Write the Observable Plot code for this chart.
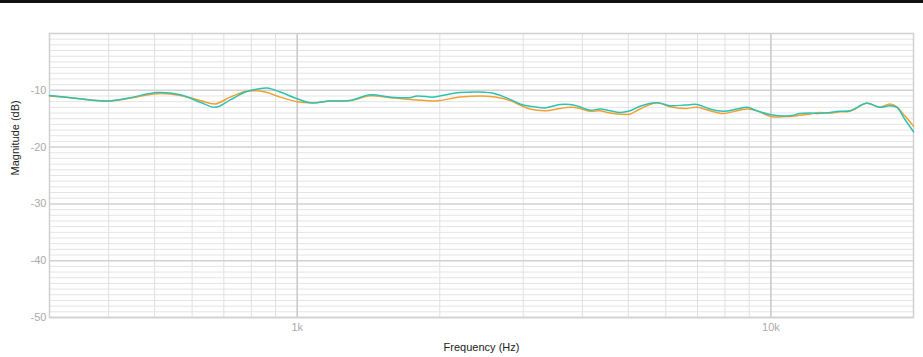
<!DOCTYPE html>
<html>
<head>
<meta charset="utf-8">
<script src="https://cdn.jsdelivr.net/npm/d3@7"></script>
<script src="https://cdn.jsdelivr.net/npm/@observablehq/plot@0.6"></script>
<style>
  html, body { margin: 0; padding: 0; background: #fff; }
  #topbar { height: 3px; background: #111; }
  #chart svg { display: block; }
</style>
</head>
<body>
<div id="topbar"></div>
<div id="chart"></div>
<script>
// ---- data ----
const freqHz = [300, 332, 366, 400, 444, 506, 567, 624, 671, 722, 777, 823, 864, 921, 1000,
  1065, 1174, 1294, 1426, 1571, 1731, 1791, 1936, 2000, 2208, 2433, 2617, 2814, 2954, 3101,
  3336, 3587, 3767, 3915, 4151, 4358, 4575, 4802, 5041, 5292, 5747, 6123, 6585, 6982, 7435,
  7919, 8478, 8900, 9343, 10000, 10970, 11500, 12080, 12600, 13320, 13900, 14680, 15940, 16980,
  17830, 18450, 19170, 20000];
const orangeDb = [-11.0, -11.3, -11.7, -11.9, -11.4, -10.6, -10.9, -11.8, -12.4, -11.2, -10.2, -10.1, -10.4, -11.2, -12.0,
  -12.2, -11.9, -11.8, -10.95, -11.3, -11.6, -11.7, -11.9, -11.8, -11.2, -11.0, -11.2, -11.8, -12.6, -13.3,
  -13.6, -13.2, -13.0, -13.1, -13.7, -13.6, -14.0, -14.2, -14.2, -13.3, -12.2, -12.9, -13.2, -13.0, -13.6,
  -14.1, -13.6, -13.3, -13.6, -14.6, -14.6, -14.4, -14.2, -13.9, -14.0, -13.8, -13.7, -12.3, -13.0,
  -12.4, -12.9, -14.5, -16.3];
const tealDb = [-10.9, -11.3, -11.7, -11.9, -11.3, -10.4, -10.8, -12.1, -13.0, -11.7, -10.3, -9.8, -9.6, -10.3, -11.5,
  -12.2, -11.9, -11.8, -10.8, -11.2, -11.3, -11.0, -11.2, -11.0, -10.4, -10.3, -10.6, -11.6, -12.4, -12.8,
  -13.1, -12.5, -12.5, -12.8, -13.5, -13.3, -13.6, -13.9, -13.6, -12.8, -12.2, -12.7, -12.6, -12.5, -13.3,
  -13.7, -13.3, -13.0, -13.6, -14.3, -14.5, -14.1, -14.0, -14.1, -13.9, -13.7, -13.6, -12.3, -13.0,
  -12.7, -13.0, -15.1, -17.3];
const yTickValues = [-10, -20, -30, -40, -50];
const yTickLabels = ["-10", "-20", "-30", "-40", "-50"];
const xTickValues = [1000, 10000];
const xTickLabels = ["1k", "10k"];
const xMinorGrid = [400, 500, 600, 700, 800, 900, 2000, 3000, 4000, 5000, 6000, 7000, 8000, 9000];

const orangeRows = freqHz.map((f, i) => ({f, db: orangeDb[i]}));
const tealRows = freqHz.map((f, i) => ({f, db: tealDb[i]}));
const yMinorGrid = d3.range(-49, 0).filter(v => v % 10 !== 0);

const chart = Plot.plot({
  width: 923,
  height: 354,
  marginTop: 30,
  marginBottom: 40,
  marginLeft: 49,
  marginRight: 10,
  style: {fontFamily: "'Liberation Sans', Arial, sans-serif", fontSize: "11px", background: "#fff"},
  x: {type: "log", domain: [300, 20000]},
  y: {domain: [-50, 0]},
  marks: [
    Plot.ruleY(yMinorGrid, {stroke: "#e4e4e4", strokeWidth: 1}),
    Plot.ruleX(xMinorGrid, {stroke: "#e0e0e0", strokeWidth: 1}),
    Plot.ruleY(yTickValues, {stroke: "#d2d2d2", strokeWidth: 1.5}),
    Plot.ruleX(xTickValues, {stroke: "#c8c8c8", strokeWidth: 1.5}),
    Plot.frame({stroke: "#d0d0d0", strokeWidth: 1.5}),
    Plot.axisY(yTickValues, {tickSize: 0, tickPadding: 3, color: "#aaaaaa", label: null, fontSize: 11,
      tickFormat: (d) => yTickLabels[yTickValues.indexOf(d)]}),
    Plot.axisX(xTickValues, {tickSize: 0, tickPadding: 6, color: "#aaaaaa", label: null, fontSize: 11,
      tickFormat: (d) => xTickLabels[xTickValues.indexOf(d)]}),
    Plot.text(["Magnitude (dB)"], {frameAnchor: "left", dx: -34, rotate: -90, fill: "#222", fontSize: 11}),
    Plot.text(["Frequency (Hz)"], {frameAnchor: "bottom", dy: 33, fill: "#222", fontSize: 11}),
    Plot.line(orangeRows, {x: "f", y: "db", stroke: "#f3a033", strokeWidth: 1.5, curve: "catmull-rom"}),
    Plot.line(tealRows, {x: "f", y: "db", stroke: "#2fc2b2", strokeWidth: 1.5, curve: "catmull-rom"})
  ]
});
document.getElementById("chart").append(chart);
</script>
</body>
</html>
